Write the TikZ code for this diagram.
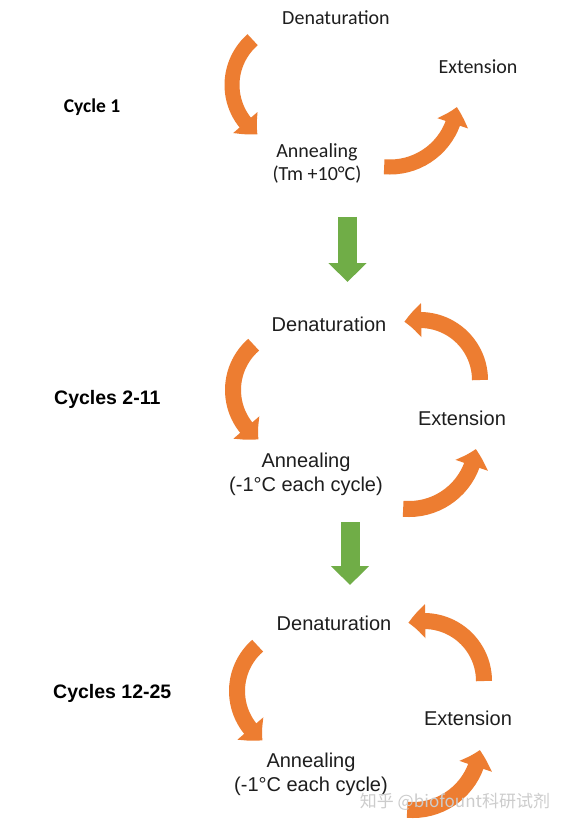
\documentclass[tikz,border=0pt]{standalone}
\usepackage{fontspec}
\setmainfont{Liberation Sans}
\newfontfamily\calfont{Carlito}
\newfontfamily\arfont{Liberation Sans}
\newfontfamily\cjkfont{Noto Sans CJK SC}
\usetikzlibrary{arrows.meta,bending}
\definecolor{pcrorange}{HTML}{ED7D31}
\definecolor{pcrgreen}{HTML}{70AD47}
\definecolor{txt}{HTML}{1E1E1E}
\begin{document}
\begin{tikzpicture}[x=1pt,y=-1pt,
  lbla/.style={font=\calfont\fontsize{20}{23}\selectfont, text=txt, inner sep=0pt, align=center},
  lblb/.style={font=\arfont\fontsize{20}{24}\selectfont, text=txt, inner sep=0pt, align=center},
  cyca/.style={font=\calfont\bfseries\fontsize{19.5}{22}\selectfont, text=black, inner sep=0pt},
  cycb/.style={font=\arfont\bfseries\fontsize{19.5}{22}\selectfont, text=black, inner sep=0pt, anchor=west},
  orarrA/.style={draw=pcrorange, line width=15pt, -{Triangle[bend,width=31pt,length=17pt]}},
  orarrB/.style={draw=pcrorange, line width=16pt, -{Triangle[bend,width=33pt,length=17pt]}},
  grarr/.style={draw=pcrgreen, line width=19pt, -{Triangle[width=37pt,length=19pt]}},
  wmark/.style={font=\cjkfont\fontsize{17}{17}\selectfont, text=gray!40, inner sep=0pt}
]
\useasboundingbox (0,0) rectangle (562,826);
\fill[white] (0,0) rectangle (562,826);

% ---------- Cycle 1 ----------
\node[cyca] (c1lab) at (92,107) {Cycle 1};
\node[lbla] (c1den) at (336,18) {Denaturation};
\node[lbla] (c1ext) at (478,67) {Extension};
\node[lbla] (c1ann) at (317,163) {Annealing\\(Tm +10°C)};
\draw[orarrA] (292,85) ++(229:60) arc[start angle=229, end angle=125, radius=60];
\draw[orarrA] (390,100) ++(95:67) arc[start angle=95, end angle=6, radius=67];

% green arrow 1
\coordinate (g1s) at (347.5,217);
\coordinate (g1e) at (347.5,282);
\draw[grarr] (g1s) -- (g1e);

% ---------- Cycles 2-11 ----------
\node[cycb] (c2lab) at (54,399) {Cycles 2-11};
\node[lblb] (c2den) at (329,324) {Denaturation};
\node[lblb] (c2ext) at (462,418) {Extension};
\node[lblb] (c2ann) at (306,474) {Annealing\\(-1°C each cycle)};
\draw[orarrB] (293,390) ++(229:60) arc[start angle=229, end angle=125, radius=60];
\draw[orarrB] (420,380) ++(0:60) arc[start angle=0, end angle=-105, radius=60];
\draw[orarrB] (409,442) ++(95:67) arc[start angle=95, end angle=6, radius=67];

% green arrow 2
\coordinate (g2s) at (350,522);
\coordinate (g2e) at (350,585);
\draw[grarr] (g2s) -- (g2e);

% ---------- Cycles 12-25 ----------
\node[cycb] (c3lab) at (53,693) {Cycles 12-25};
\node[lblb] (c3den) at (334,623) {Denaturation};
\node[lblb] (c3ext) at (468,718) {Extension};
\node[lblb] (c3ann) at (311,774) {Annealing\\(-1°C each cycle)};
\draw[orarrB] (297,691) ++(229:60) arc[start angle=229, end angle=125, radius=60];
\draw[orarrB] (424,681) ++(0:60) arc[start angle=0, end angle=-105, radius=60];
\draw[orarrB] (413,743) ++(95:67) arc[start angle=95, end angle=6, radius=67];

% watermark
\node[wmark] (wm) at (455,802) {知乎 @biofount科研试剂};
\end{tikzpicture}
\end{document}
